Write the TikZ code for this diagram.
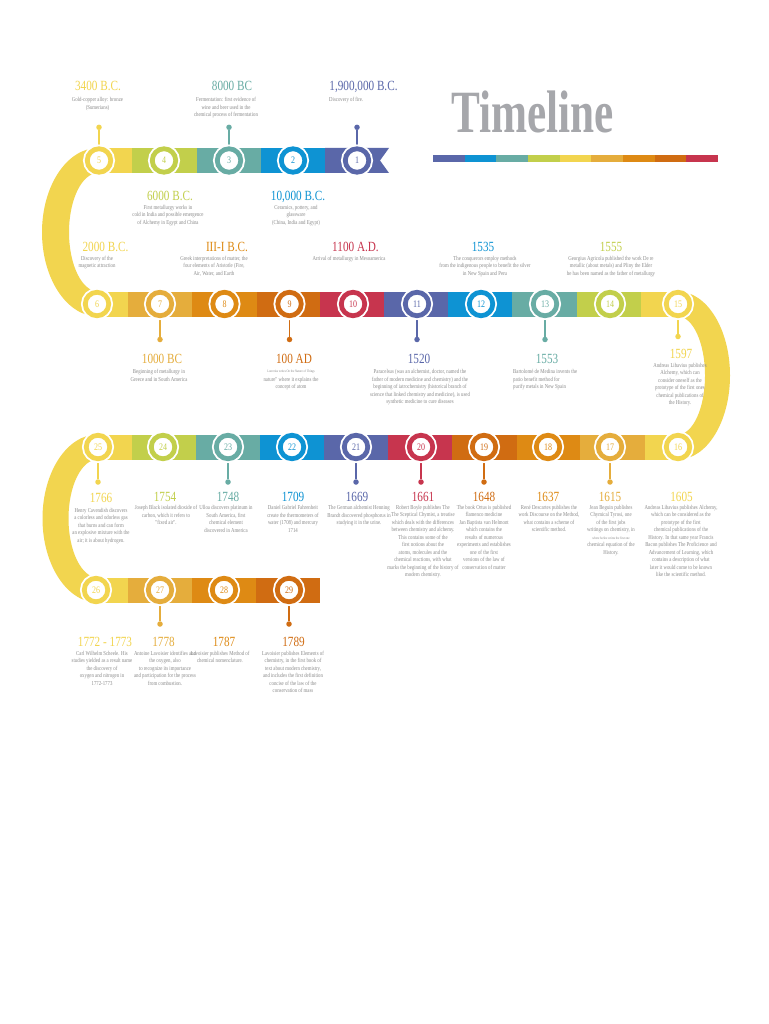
\documentclass[tikz,border=0pt]{standalone}
\usepackage{fontspec}
\setmainfont{Liberation Serif}
\newfontfamily\cond[FakeStretch=0.8]{Liberation Serif}
\newfontfamily\ttlfont[FakeStretch=0.72]{Liberation Serif}
\definecolor{cInd}{HTML}{5A67A9}
\definecolor{cBlue}{HTML}{0E93D3}
\definecolor{cTeal}{HTML}{68ACA4}
\definecolor{cLime}{HTML}{C2CF4B}
\definecolor{cYel}{HTML}{F2D54F}
\definecolor{cGold}{HTML}{E5AD3C}
\definecolor{cOra}{HTML}{DE8A14}
\definecolor{cDko}{HTML}{D06C12}
\definecolor{cCrim}{HTML}{C7354E}
\definecolor{titlegray}{HTML}{A6A7AB}
\definecolor{descgray}{HTML}{8A8A8A}
\pgfdeclarelayer{bg}
\pgfsetlayers{bg,main}
\tikzset{
  year/.style={font=\cond\fontsize{14}{14}\selectfont, anchor=base, inner sep=0pt, text=#1},
  desc/.style={font=\cond\fontsize{6}{7.5}\selectfont, text=descgray, align=center, anchor=north, yshift=4.3pt, inner sep=0pt},
  tiny/.style={font=\cond\fontsize{3.6}{4}\selectfont, text=descgray, anchor=base, inner sep=0pt},
  num/.style={circle, fill=white, draw=#1, line width=4.8pt, minimum size=23.5pt, inner sep=0pt,
    text=#1, font=\cond\fontsize{10}{10}\selectfont, preaction={draw=white, line width=8.5pt}},
  pindot/.style={circle, fill=#1, minimum size=5.5pt, inner sep=0pt},
  pinline/.style={draw=#1, line width=1.5pt},
}
\begin{document}
\begin{tikzpicture}[x=1pt, y=-1pt]
\begin{pgfonlayer}{bg}
\fill[white] (0,0) rectangle (768,1024);
\end{pgfonlayer}
\useasboundingbox (0,0) rectangle (768,1024);

% ---------- title ----------
\node[anchor=base west, inner sep=0pt, text=titlegray, font=\ttlfont\bfseries\fontsize{60}{60}\selectfont] (title) at (451,133) {Timeline};
\foreach \c [count=\i from 0] in {cInd,cBlue,cTeal,cLime,cYel,cGold,cOra,cDko,cCrim}
  \fill[\c] ({433+\i*31.67},155) rectangle ({433+(\i+1)*31.67},162);

% ---------- bars ----------
% row 1
\fill[cYel] (98,148) rectangle (132,173);
\fill[cLime] (132,148) rectangle (197,173);
\fill[cTeal] (197,148) rectangle (261,173);
\fill[cBlue] (261,148) rectangle (325,173);
\fill[cInd] (325,148) -- (389,148) -- (380,160.5) -- (389,173) -- (325,173) -- cycle;
% curve 1 (left)
\begin{scope}
  \clip (0,100) rectangle (98.4,340);
  \fill[cYel, even odd rule] (98,232.25) ellipse [x radius=56pt, y radius=84.25pt]
     (98,232.25) ellipse [x radius=29pt, y radius=59.25pt];
\end{scope}
% row 2
\fill[cYel] (98,291.5) rectangle (128,316.5);
\fill[cGold] (128,291.5) rectangle (192,316.5);
\fill[cOra] (192,291.5) rectangle (257,316.5);
\fill[cDko] (257,291.5) rectangle (320,316.5);
\fill[cCrim] (320,291.5) rectangle (384,316.5);
\fill[cInd] (384,291.5) rectangle (448,316.5);
\fill[cBlue] (448,291.5) rectangle (512,316.5);
\fill[cTeal] (512,291.5) rectangle (577,316.5);
\fill[cLime] (577,291.5) rectangle (641,316.5);
\fill[cYel] (641,291.5) rectangle (678.3,316.5);
% curve 2 (right)
\begin{scope}
  \clip (677.8,280) rectangle (760,470);
  \fill[cYel, even odd rule] (678,375.5) ellipse [x radius=52pt, y radius=84pt]
     (678,375.5) ellipse [x radius=27pt, y radius=59pt];
\end{scope}
% row 3
\fill[cYel] (97.6,434.5) rectangle (132,459.5);
\fill[cLime] (132,434.5) rectangle (196,459.5);
\fill[cTeal] (196,434.5) rectangle (260,459.5);
\fill[cBlue] (260,434.5) rectangle (324,459.5);
\fill[cInd] (324,434.5) rectangle (388,459.5);
\fill[cCrim] (388,434.5) rectangle (452,459.5);
\fill[cDko] (452,434.5) rectangle (517,459.5);
\fill[cOra] (517,434.5) rectangle (580,459.5);
\fill[cGold] (580,434.5) rectangle (645,459.5);
\fill[cYel] (645,434.5) rectangle (678.3,459.5);
% curve 3 (left)
\begin{scope}
  \clip (0,420) rectangle (97.9,620);
  \fill[cYel, even odd rule] (97.5,518.5) ellipse [x radius=55pt, y radius=84pt]
     (97.5,518.5) ellipse [x radius=29pt, y radius=59pt];
\end{scope}
% row 4
\fill[cYel] (97.4,577.5) rectangle (128,602.5);
\fill[cGold] (128,577.5) rectangle (192,602.5);
\fill[cOra] (192,577.5) rectangle (256,602.5);
\fill[cDko] (256,577.5) rectangle (320,602.5);

% ---------- circles ----------
\node[num=cInd] (c1) at (357,160.5) {1};
\node[num=cBlue] (c2) at (293,160.5) {2};
\node[num=cTeal] (c3) at (229,160.5) {3};
\node[num=cLime] (c4) at (164,160.5) {4};
\node[num=cYel] (c5) at (99,160.5) {5};
\node[num=cYel] (c6) at (97,304) {6};
\node[num=cGold] (c7) at (160,304) {7};
\node[num=cOra] (c8) at (224.5,304) {8};
\node[num=cDko] (c9) at (289.5,304) {9};
\node[num=cCrim] (c10) at (353,304) {10};
\node[num=cInd] (c11) at (417,304) {11};
\node[num=cBlue] (c12) at (481,304) {12};
\node[num=cTeal] (c13) at (545,304) {13};
\node[num=cLime] (c14) at (610,304) {14};
\node[num=cYel] (c15) at (678,304) {15};
\node[num=cYel] (c16) at (678,447) {16};
\node[num=cGold] (c17) at (610,447) {17};
\node[num=cOra] (c18) at (548,447) {18};
\node[num=cDko] (c19) at (484,447) {19};
\node[num=cCrim] (c20) at (421,447) {20};
\node[num=cInd] (c21) at (356,447) {21};
\node[num=cBlue] (c22) at (292,447) {22};
\node[num=cTeal] (c23) at (228,447) {23};
\node[num=cLime] (c24) at (163,447) {24};
\node[num=cYel] (c25) at (98,447) {25};
\node[num=cYel] (c26) at (96,590) {26};
\node[num=cGold] (c27) at (160,590) {27};
\node[num=cOra] (c28) at (224,590) {28};
\node[num=cDko] (c29) at (289,590) {29};

% ---------- pin dots ----------
\node[pindot=cYel] (d5) at (99,127.3) {};
\node[pindot=cTeal] (d3) at (229,127.3) {};
\node[pindot=cInd] (d1) at (357,127.3) {};
\node[pindot=cGold] (d7) at (160,339.5) {};
\node[pindot=cDko] (d9) at (289.5,339.5) {};
\node[pindot=cInd] (d11) at (417,339.5) {};
\node[pindot=cTeal] (d13) at (545,339.5) {};
\node[pindot=cYel] (d15) at (678,336.5) {};
\node[pindot=cYel] (d25) at (98,482) {};
\node[pindot=cTeal] (d23) at (228,482) {};
\node[pindot=cInd] (d21) at (356,482) {};
\node[pindot=cCrim] (d20) at (421,482) {};
\node[pindot=cDko] (d19) at (484,482) {};
\node[pindot=cGold] (d17) at (610,482) {};
\node[pindot=cGold] (d27) at (160,624) {};
\node[pindot=cDko] (d29) at (289,624) {};

\begin{pgfonlayer}{bg}
\draw[pinline=cYel] (c5) -- (d5);
\draw[pinline=cTeal] (c3) -- (d3);
\draw[pinline=cInd] (c1) -- (d1);
\draw[pinline=cGold] (c7) -- (d7);
\draw[pinline=cDko] (c9) -- (d9);
\draw[pinline=cInd] (c11) -- (d11);
\draw[pinline=cTeal] (c13) -- (d13);
\draw[pinline=cYel] (c15) -- (d15);
\draw[pinline=cYel] (c25) -- (d25);
\draw[pinline=cTeal] (c23) -- (d23);
\draw[pinline=cInd] (c21) -- (d21);
\draw[pinline=cCrim] (c20) -- (d20);
\draw[pinline=cDko] (c19) -- (d19);
\draw[pinline=cGold] (c17) -- (d17);
\draw[pinline=cGold] (c27) -- (d27);
\draw[pinline=cDko] (c29) -- (d29);
\end{pgfonlayer}

% ---------- row 1 labels ----------
\node[year=cYel] (y5) at (98,90.5) {3400 B.C.};
\node[desc] (t5) at (97.5,101.5) {Gold-copper alloy: bronze\\(Sumerians)};
\node[year=cTeal] (y3) at (232,90.5) {8000 BC};
\node[desc] (t3) at (226,101.5) {Fermentation: first evidence of\\wine and beer used in the\\chemical process of fermentation};
\node[year=cInd] (y1) at (363.5,90.5) {1,900,000 B.C.};
\node[desc, anchor=north west] (t1) at (329,101.5) {Discovery of fire.};
\node[year=cLime] (y4) at (170,200.5) {6000 B.C.};
\node[desc] (t4) at (168,209) {First metallurgy works in\\cold in India and possible emergence\\of Alchemy in Egypt and China};
\node[year=cBlue] (y2) at (298,200.5) {10,000 B.C.};
\node[desc] (t2) at (296,209) {Ceramics, pottery, and\\glassware\\(China, India and Egypt)};

% ---------- row 2 labels ----------
\node[year=cYel] (y6) at (105.5,251.5) {2000 B.C.};
\node[desc] (t6) at (97,260) {Discovery of the\\magnetic attraction};
\node[year=cOra] (y8) at (227,251.5) {III-I B.C.};
\node[desc] (t8) at (214,260) {Greek interpretations of matter, the\\four elements of Aristotle (Fire,\\Air, Water, and Earth};
\node[year=cCrim] (y10) at (355.5,251.5) {1100 A.D.};
\node[desc] (t10) at (349,260) {Arrival of metallurgy in Mesoamerica};
\node[year=cBlue] (y12) at (483,251.5) {1535};
\node[desc] (t12) at (485,260) {The conquerors employ methods\\from the indigenous people to benefit the silver\\in New Spain and Peru};
\node[year=cLime] (y14) at (611,251.5) {1555};
\node[desc] (t14) at (611,260) {Georgius Agricola published the work De re\\metallic (about metals) and Pliny the Elder\\he has been named as the father of metallurgy};

\node[year=cGold] (y7) at (162,363) {1000 BC};
\node[desc] (t7) at (159,373.5) {Beginning of metallurgy in\\Greece and in South America};
\node[year=cDko] (y9) at (294,363) {100 AD};
\node[tiny] (t9a) at (291,372) {Lucretius writes On the Nature of Things};
\node[desc] (t9) at (291,381) {nature" where it explains the\\concept of atom};
\node[year=cInd] (y11) at (419,363) {1520};
\node[desc] (t11) at (420,373.5) {Paracelsus (was an alchemist, doctor, named the\\father of modern medicine and chemistry) and the\\beginning of iatrochemistry (historical branch of\\science that linked chemistry and medicine), is used\\synthetic medicine to cure diseases};
\node[year=cTeal] (y13) at (547,363) {1553};
\node[desc, align=left, anchor=north west] (t13) at (513,373.5) {Bartolom\'e de Medina invents the\\patio benefit method for\\purify metals in New Spain};
\node[year=cYel] (y15) at (681,358) {1597};
\node[desc] (t15) at (680,367) {Andreas Libavius publishes\\Alchemy, which can\\consider oneself as the\\prototype of the first ones\\chemical publications of\\the History.};

% ---------- row 3 labels ----------
\node[year=cYel] (y25) at (101,502.5) {1766};
\node[desc] (t25) at (101,512) {Henry Cavendish discovers\\a colorless and odorless gas\\that burns and can form\\an explosive mixture with the\\air; it is about hydrogen.};
\node[year=cLime] (y24) at (165,501.5) {1754};
\node[desc] (t24) at (166,509.5) {Joseph Black isolated dioxide of\\carbon, which it refers to\\"fixed air".};
\node[year=cTeal] (y23) at (228,501.5) {1748};
\node[desc] (t23) at (226,509.5) {Ulloa discovers platinum in\\South America, first\\chemical element\\discovered in America};
\node[year=cBlue] (y22) at (293,501.5) {1709};
\node[desc] (t22) at (293,509.5) {Daniel Gabriel Fahrenheit\\create the thermometers of\\water (1708) and mercury\\1714};
\node[year=cInd] (y21) at (357,501.5) {1669};
\node[desc] (t21) at (359,509.5) {The German alchemist Henning\\Brandt discovered phosphorus in\\studying it in the urine.};
\node[year=cCrim] (y20) at (423,501.5) {1661};
\node[desc] (t20) at (423,509) {Robert Boyle publishes The\\The Sceptical Chymist, a treatise\\which deals with the differences\\between chemistry and alchemy.\\This contains some of the\\first notions about the\\atoms, molecules and the\\chemical reactions, with what\\marks the beginning of the history of\\modern chemistry.};
\node[year=cDko] (y19) at (484,501.5) {1648};
\node[desc] (t19) at (484,509) {The book Ortus is published\\flamenco medicine\\Jan Baptista van Helmont\\which contains the\\results of numerous\\experiments and establishes\\one of the first\\versions of the law of\\conservation of matter};
\node[year=cOra] (y18) at (548,501.5) {1637};
\node[desc] (t18) at (549,509) {Ren\'e Descartes publishes the\\work Discourse on the Method,\\what contains a scheme of\\scientific method.};
\node[year=cGold] (y17) at (610,501.5) {1615};
\node[desc] (t17) at (611,509) {Jean Beguin publishes\\Chymical Tyrosi, one\\of the first jobs\\writings on chemistry, in\\{\fontsize{3.6}{7.5}\selectfont where he/she writes the first one}\\chemical equation of the\\History.};
\node[year=cYel] (y16) at (681.5,501.5) {1605};
\node[desc] (t16) at (681,509) {Andreas Libavius publishes Alchemy,\\which can be considered as the\\prototype of the first\\chemical publications of the\\History. In that same year Francis\\Bacon publishes The Proficience and\\Advancement of Learning, which\\contains a description of what\\later it would come to be known\\like the scientific method.};

% ---------- row 4 labels ----------
\node[year=cYel] (y26) at (105,646.5) {1772 - 1773};
\node[desc] (t26) at (102,655) {Carl Wilhelm Scheele. His\\studies yielded as a result name\\the discovery of\\oxygen and nitrogen in\\1772-1773};
\node[year=cGold] (y27) at (163.5,646.5) {1778};
\node[desc] (t27) at (165,655) {Antoine Lavoisier identifies and\\the oxygen, also\\to recognize its importance\\and participation for the process\\from combustion.};
\node[year=cOra] (y28) at (224,646.5) {1787};
\node[desc] (t28) at (220,655) {Lavoisier publishes Method of\\chemical nomenclature.};
\node[year=cDko] (y29) at (293.5,646.5) {1789};
\node[desc] (t29) at (293,655) {Lavoisier publishes Elements of\\chemistry, in the first book of\\text about modern chemistry,\\and includes the first definition\\concise of the law of the\\conservation of mass};
\end{tikzpicture}
\end{document}
